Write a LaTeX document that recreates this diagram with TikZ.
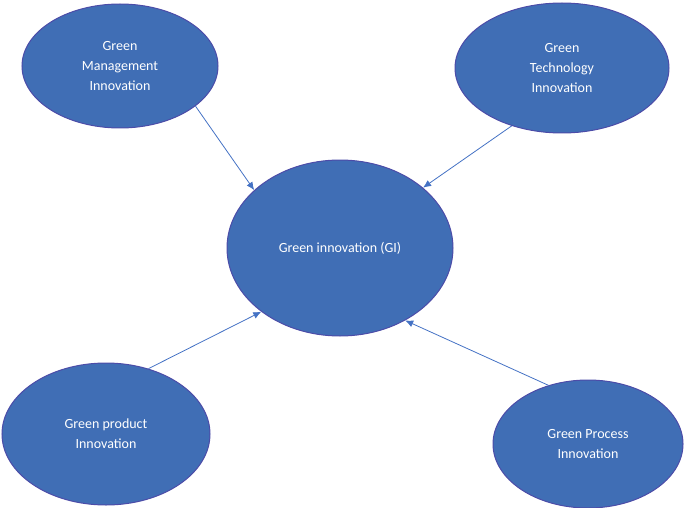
\documentclass[tikz,border=0pt]{standalone}
\usepackage{fontspec}
\setmainfont{Carlito}
\usetikzlibrary{shapes.geometric,arrows.meta}
\begin{document}
\begin{tikzpicture}[x=1pt,y=-1pt,
  el/.style={ellipse,draw=black!10!blue!40!gray,line width=1pt,fill={rgb,255:red,64;green,110;blue,181},text=white,align=center,font=\fontsize{14}{20}\selectfont,inner sep=0pt},
  arr/.style={draw={rgb,255:red,68;green,114;blue,196},line width=0.8pt,-{Latex[length=8pt,width=7pt]}}]
\useasboundingbox (0,0) rectangle (685,508);
\node[el,minimum width=196,minimum height=124] (tl) at (120,66) {Green\\Management\\Innovation};
\node[el,minimum width=214,minimum height=130] (tr) at (562,68) {Green\\Technology\\Innovation};
\node[el,minimum width=226,minimum height=176] (c) at (340,248) {Green innovation (GI)};
\node[el,minimum width=208,minimum height=142] (bl) at (106,434) {Green product\\Innovation};
\node[el,minimum width=190,minimum height=128] (br) at (588,444) {Green Process\\Innovation};
\draw[arr] (tl.-28) -- (c.146);
\draw[arr] (tr.229) -- (c.36);
\draw[arr] (bl.57) -- (c.219);
\draw[arr] (br.124) -- (c.312);
\end{tikzpicture}
\end{document}
